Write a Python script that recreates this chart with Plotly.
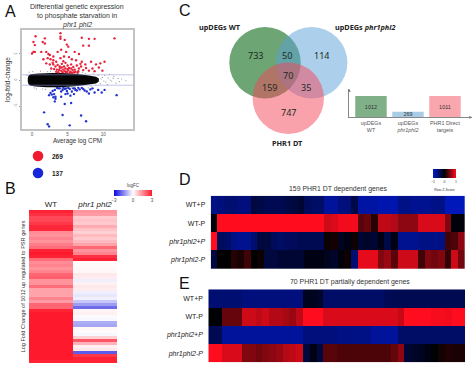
import plotly.graph_objects as go

W, H = 474, 366

# ---------- Panel A: MA plot ----------
red_x = [4.0,4.0,0.5,8.0,8.8,7.0,11.6,1.8,0.2,1.5,0.4,1.8,4.0,4.6,4.9,7.2,8.0,5.1,0.2,0.0,0.4,1.3,2.0,2.3,2.5,3.0,3.6,4.1,4.8,6.0,6.6,
         2.2,2.6,3.0,3.4,4.0,4.5,5.2,5.6,6.2,7.0,7.5,8.3,9.0,9.6,10.2,9.4,2.0,2.5,3.0,3.3,3.6,3.9,4.2,4.5,4.7,5.0,5.2,5.5,5.8,6.0,6.3,6.6,6.9,7.2,7.6,8.0,8.5,9.9,
         3.5,3.8,4.1,4.4,4.6,4.9,5.1,5.4,5.7,6.1,6.5,2.7,3.1,3.4,3.7,4.3,4.8,5.3,5.6,5.9,6.4,3.9,4.2,4.7,5.0,5.5,1.6,2.9,4.4,6.8,8.8]
red_y = [9.0,8.3,8.4,7.9,7.9,8.1,8.0,8.0,7.3,7.3,6.7,7.0,7.9,7.7,6.8,6.6,6.6,6.4,5.4,5.1,5.4,5.4,5.4,5.0,4.8,4.5,5.4,5.8,5.4,5.4,5.0,
         4.2,4.0,3.8,3.5,4.2,4.5,4.4,4.0,3.8,3.5,3.0,3.5,3.0,3.2,3.5,2.4,3.2,3.0,3.0,2.6,2.9,2.6,3.1,2.6,3.3,2.8,2.3,3.0,2.5,2.0,2.8,2.2,2.6,1.9,2.3,1.8,2.2,1.8,
         2.0,1.9,1.8,2.0,1.7,1.6,1.9,1.6,1.9,1.6,1.7,2.2,2.1,1.6,1.5,1.5,1.5,1.4,1.4,1.5,1.4,2.3,2.4,2.2,2.1,2.2,4.0,3.3,3.6,3.1,1.7]
blue_x = [1.7,2.2,2.4,5.3,6.9,7.6,4.3,11.9,2.4,2.6,2.9,3.2,3.1,3.3,3.2,3.3,4.1,4.7,4.6,5.5,4.1,4.3,4.6,4.9,5.3,5.6,6.0,6.3,6.7,7.2,7.7,8.2,8.8,9.3,9.8,10.2,8.0,3.7,5.0,5.4,
          3.5,3.9,4.4,4.8,5.1,5.8,6.5,7.0,2.8,3.0,5.9,6.1,7.4,8.5]
blue_y = [-6.2,-8.5,-8.9,-8.7,-6.8,-7.9,-6.7,-2.9,-2.9,-2.5,-2.1,-1.9,-2.7,-3.2,-4.1,-3.6,-3.2,-2.7,-4.6,-4.4,-2.2,-1.9,-1.7,-2.1,-1.7,-2.2,-1.6,-2.0,-1.8,-1.7,-2.2,-1.8,-2.4,-1.9,-2.4,-1.9,-2.6,-1.6,-2.6,-3.0,
          -1.5,-1.6,-1.5,-1.6,-1.5,-1.6,-1.5,-1.5,-2.8,-3.3,-2.7,-1.9,-2.0,-1.6]
cloud_x = [-0.6,-0.5,-0.2,0.5,1,2,3,4,5,6,7,8,9,9.4]
cloud_hi = [0.3,0.8,1.1,1.2,1.25,1.3,1.35,1.35,1.3,1.2,1.05,0.85,0.65,0.3]
cloud_lo = [-0.3,-0.8,-1.1,-1.25,-1.3,-1.4,-1.4,-1.4,-1.3,-1.2,-1.05,-0.85,-0.65,-0.3]
grey_x = [-0.7,-0.4,0.1,0.6,1.2,1.9,2.6,3.3,4.1,5.2,6.1,7.1,7.9,8.6,9.3,9.6,9.9,10.2,10.4,10.7,10.9,11.2,11.5,11.8,12.1,12.6,13.2,
          0.3,1.5,2.2,3.7,4.6,5.6,6.6,7.5,8.3,9.0,9.7,10.1,10.6,11.0,11.4,12.3]
grey_y = [0.9,1.5,1.6,-1.7,1.7,-1.8,1.7,-1.8,-1.6,1.6,-1.6,1.5,-1.5,1.3,0.9,-0.7,0.5,0.9,-0.4,0.4,1.1,-0.2,0.7,-0.6,0.3,0.2,-0.1,
          -1.5,-1.7,1.6,1.6,-1.5,-1.5,1.4,1.3,-1.2,-1.0,0.2,-0.2,-0.9,0.0,0.3,-0.3]
a_xticks = [0, 5, 10]
a_yticks = [-5, 0, 5]
threshold = [1, -1]

# ---------- Panel B: logFC heat map ----------
b_cols = ["WT", "<i>phr1 phl2</i>"]
b_wt = [2.9,2.7,2.4,2.4,2.6,2.8,2.8,1.5,1.4,1.6,1.4,1.7,1.9,2.9,3,2.9,1.9,1.5,1.6,1.4,1.6,2.0,2.1,1.4,1.4,
        1.9,1.2,1.2,1.2,1.6,1.3,2.0,2.0,2.9,3,3,3,3,3,3,3,3,3,3,3,3,3,3,3,3,2.9]
b_mut = [1.4,1.3,0.7,0.8,0.7,1.1,0.8,0.6,0.9,0.7,0.9,1.2,2.0,1.4,1.6,2.7,2.9,0.05,0.05,0.1,0.1,0.3,0.25,-0.2,0.2,
         0.3,0.25,-0.2,-0.3,-0.2,-0.7,-1.2,-1.8,0.15,0.2,-0.05,-0.1,-1.0,-1.1,0.1,0.05,-0.1,0.6,2.2,1.0,0.2,0.3,-2.0,2.6,2.9,2.9]

# ---------- Panel C: Venn counts and bars ----------
bar_labels = ["upDEGs<br>WT", "upDEGs<br><i>phr1phl2</i>", "PHR1 Direct<br>targets"]
bar_values = [1012, 269, 1011]

# ---------- Panels D / E: z-score heat maps ----------
rows = ["WT+P", "WT-P", "<i>phr1phl2+P</i>", "<i>phr1phl2-P</i>"]
d_wt_plus = [-.65,-.6,-.55,-.55,-.6,-.6,-.3,-.35,-.4,-.4,-.4,-.35,-.3,-.25,-.45,-.5,-.5,-.75,-.75,-.6,-.6,-.35,-.8,-.8,-.8,-.85,-.85,-.85,-.65,-.65,-.7,-.7,-.7,-.65,-.65,-.9,-.9,-.9]
d_wt_minus = [-.05,1,1,1,1,1,1,1,1,1,1,1,1,1,1,1,1,.8,.85,.95,.95,.95,.35,.4,.15,.75,.75,.7,.55,.55,.55,.85,.85,.85,.85,.5,-.05,-.05]
d_mut_plus = [1,-.45,-.5,-.65,-.7,-.7,-.55,-.3,-.3,-.45,-.5,-.45,-.45,-.4,-.4,-.4,-.4,.05,.08,-.15,-.1,.05,-.25,-.2,-.25,-.1,-.35,-.1,-.7,-.7,-.7,-.65,-.65,-.65,-.65,.25,.3,.55]
d_mut_minus = [-.3,0,0,.15,.1,.25,0,.05,-.3,-.3,-.25,-.25,-.25,-.25,-.1,-.1,-.1,-.15,-.2,-.05,.05,-.55,.9,.9,.9,.5,.6,.35,.8,.8,.8,.25,.5,.45,.5,.2,.8,.45]
e_wt_plus = [-.55,-.55,-.55,-.55,-.55,-.6,-.6,-.6,-.6,-.6,-.6,-.6,-.6,-.6,-.15,-.15,-.2,-.5,-.5,-.5,-.5,-.5,-.5,-.5,-.5,-.5,-.42,-.4,-.4,-.4,-.4,-.4,-.4,-.4,-.4,-.4,-.4,-.4]
e_wt_minus = [-.02,-.02,.4,.4,.4,.8,.8,.75,.8,.7,.7,.65,.6,.75,1,1,1,.85,.85,.85,.85,.85,.85,.85,.85,.85,.85,.85,.78,1,1,1,1,.97,.97,.95,1,1]
e_mut_plus = [-.4,-.4,-.75,-.75,-.75,-.75,-.75,-.75,-.75,-.75,-.75,-.75,-.75,-.75,-.6,-.6,-.6,-.6,-.6,-.65,-.65,-.65,-.65,-.65,-.75,-.75,-.75,-.75,-.5,-.5,-.5,-.5,-.5,-.5,-.5,-.5,-.5,-.5]
e_mut_minus = [1,1,.85,.85,.85,.5,.5,.45,.5,.55,.6,.7,.75,.8,-.3,-.1,-.3,.35,.35,.3,.3,.3,.3,.3,.3,.3,.3,.4,.55,-.25,-.2,-.15,-.1,-.02,.08,.12,.1,.1]


def dom_x(a, b):
    return [a / W, b / W]


def dom_y(top, bottom):
    return [1 - bottom / H, 1 - top / H]


def px(x):
    return x / W


def py(y):
    return 1 - y / H


FONT = "Liberation Sans, Arial, sans-serif"
SOFT = "Noto Sans, sans-serif"
fig = go.Figure()

# A
fig.add_trace(go.Scatter(x=grey_x, y=grey_y, mode="markers", marker=dict(color="#9a9a9a", size=1.2),
                         xaxis="x", yaxis="y", showlegend=False))
fig.add_trace(go.Scatter(x=cloud_x + cloud_x[::-1], y=cloud_hi + cloud_lo[::-1], fill="toself", mode="none",
                         fillcolor="#050505", xaxis="x", yaxis="y", showlegend=False))
fig.add_trace(go.Scatter(x=[-1.4, 14.2, None, -1.4, 14.2], y=[threshold[0], threshold[0], None, threshold[1], threshold[1]],
                         mode="lines", line=dict(color="rgba(140,150,215,0.55)", width=1), xaxis="x", yaxis="y", showlegend=False))
fig.add_trace(go.Scatter(x=red_x, y=red_y, mode="markers", marker=dict(color="#e8223a", size=2.4),
                         xaxis="x", yaxis="y", showlegend=False))
fig.add_trace(go.Scatter(x=blue_x, y=blue_y, mode="markers", marker=dict(color="#2233cc", size=2.4),
                         xaxis="x", yaxis="y", showlegend=False))

# B
B_SCALE = [[0, "rgb(10,10,225)"], [0.5, "rgb(255,255,255)"], [1, "rgb(255,25,45)"]]
fig.add_trace(go.Heatmap(z=[list(r) for r in zip(b_wt, b_mut)], x=b_cols, xaxis="x2", yaxis="y2",
                         zmin=-3, zmax=3, colorscale=B_SCALE, xgap=0, ygap=0,
                         colorbar=dict(orientation="h", x=px(133), xanchor="center", y=py(200.5), yanchor="bottom",
                                       lenmode="pixels", len=38, thickness=6, xpad=0, ypad=0, outlinewidth=0,
                                       tickvals=[-3, 0, 3], ticks="", ticklabelposition="outside bottom",
                                       tickfont=dict(size=4.5, color="#444", family=FONT))))

# C bars
fig.add_trace(go.Bar(x=[0, 1, 2], y=bar_values, xaxis="x3", yaxis="y3", width=0.85, showlegend=False,
                     marker=dict(color=["#7fb088", "#a9cde6", "#f9a6ae"], line=dict(width=0)),
                     text=[str(v) for v in bar_values], textposition="inside", insidetextanchor="middle",
                     textangle=0, constraintext="none",
                     textfont=dict(size=5.5, color="#333", family=FONT)))

# D / E
Z_SCALE = [[0, "rgb(0,25,205)"], [0.5, "rgb(0,0,0)"], [1, "rgb(255,12,30)"]]
fig.add_trace(go.Heatmap(z=[d_wt_plus, d_wt_minus, d_mut_plus, d_mut_minus], y=rows, xaxis="x4", yaxis="y4",
                         zmin=-1, zmax=1, colorscale=Z_SCALE,
                         colorbar=dict(orientation="h", x=px(444.5), xanchor="center", y=py(191.5), yanchor="bottom",
                                       lenmode="pixels", len=23, thickness=9, xpad=0, ypad=0, outlinewidth=0,
                                       tickvals=[-1, 0, 1], ticks="", tickfont=dict(size=3.5, color="#333", family=FONT),
                                       title=dict(text="Row Z-Score", side="bottom", font=dict(size=3.5, color="#333", family=FONT)))))
fig.add_trace(go.Heatmap(z=[e_wt_plus, e_wt_minus, e_mut_plus, e_mut_minus], y=rows, xaxis="x5", yaxis="y5",
                         zmin=-1, zmax=1, colorscale=Z_SCALE, showscale=False))

hidden = dict(showgrid=False, zeroline=False, showticklabels=False, ticks="", showline=False)
row_axis = dict(autorange="reversed", showgrid=False, zeroline=False, ticks="outside", ticklen=3, tickcolor="rgba(0,0,0,0)",
                tickfont=dict(size=7, color="#222", family=FONT), showline=False)
frame = dict(showline=True, linecolor="#c3c3c3", linewidth=1.5, mirror=True, showgrid=False, zeroline=False)

fig.update_layout(
    width=W, height=H, margin=dict(l=0, r=0, t=0, b=0), paper_bgcolor="white", plot_bgcolor="white",
    showlegend=False, font=dict(family=FONT, color="#333"),
    xaxis=dict(domain=dom_x(22, 133), range=[-1.41, 14.2], tickvals=a_xticks, ticks="", ticklen=0,
               tickfont=dict(size=4.5, color="#555"), title=dict(text="Average log CPM", font=dict(size=6.3, color="#333"), standoff=1), **frame),
    yaxis=dict(domain=dom_y(30, 129), range=[-9.4, 9.6], tickvals=a_yticks, ticks="outside", ticklen=1.5, tickcolor="#999",
               tickangle=-90, tickfont=dict(size=3.5, color="#666"),
               title=dict(text="log-fold-change", font=dict(size=6.5, color="#333"), standoff=3), **frame),
    xaxis2=dict(domain=dom_x(29, 117), anchor="y2", side="top", showgrid=False, zeroline=False, ticks="",
                tickfont=dict(size=8, color="#222")),
    yaxis2=dict(domain=dom_y(210, 363), anchor="x2", autorange="reversed", showticklabels=False, ticks="", showgrid=False, zeroline=False,
                title=dict(text="Log Fold Change of 1012 up regulated to PSR genes", font=dict(size=5.6, color="#333"), standoff=2)),
    xaxis3=dict(domain=dom_x(349.3, 472), anchor="y3", range=[-0.586, 2.73], tickvals=[0, 1, 2], ticktext=bar_labels,
                showgrid=False, zeroline=False, showline=True, linecolor="#888", linewidth=1, ticks="", ticklen=0,
                tickfont=dict(size=5.4, color="#555")),
    yaxis3=dict(domain=dom_y(89.3, 117.3), anchor="x3", range=[0, 1330], showticklabels=False, ticks="",
                showgrid=False, zeroline=False, showline=True, linecolor="#888", linewidth=1),
    xaxis4=dict(domain=dom_x(210.7, 465), anchor="y4", **hidden),
    yaxis4=dict(domain=dom_y(195.7, 269), anchor="x4", **row_axis),
    xaxis5=dict(domain=dom_x(208.3, 465), anchor="y5", **hidden),
    yaxis5=dict(domain=dom_y(289.3, 362.3), anchor="x5", **row_axis),
)

shapes = []
for (cx, cy, r, col, op) in [(265, 62.7, 35.7, "rgb(60,135,70)", 0.75),
                             (311.7, 62.7, 35.7, "rgb(90,160,215)", 0.5),
                             (288.3, 98.3, 35.7, "rgb(245,70,90)", 0.5)]:
    shapes.append(dict(type="circle", xref="paper", yref="paper", x0=px(cx - r), x1=px(cx + r), y0=py(cy + r), y1=py(cy - r),
                       fillcolor=col, opacity=op, line=dict(width=0), layer="above"))
for (cx, cy, col) in [(38, 156, "#ee1c2e"), (38, 173, "#1726d8")]:
    shapes.append(dict(type="circle", xref="paper", yref="paper", x0=px(cx - 5.3), x1=px(cx + 5.3), y0=py(cy + 5.3), y1=py(cy - 5.3),
                       fillcolor=col, line=dict(width=0), layer="above"))
fig.update_layout(shapes=shapes)


def note(x, y, text, size=7, color="#333", family=FONT, anchor="center"):
    fig.add_annotation(x=px(x), y=py(y), xref="paper", yref="paper", text=text, showarrow=False, xanchor=anchor, yanchor="middle",
                       font=dict(size=size, color=color, family=family))


for letter, x, y in [("A", 3, 11), ("B", 3, 188), ("C", 177, 10), ("D", 177, 179), ("E", 177, 283)]:
    note(x, y, letter, size=16, color="#111", anchor="left")
note(77, 7, "Differential genetic expression", 7)
note(77, 16.5, "to phosphate starvation in", 7)
note(77, 25, "<i>phr1 phl2</i>", 7)
note(50, 156, "<b>269</b>", 6.5, "#222", anchor="left")
note(50, 173, "<b>137</b>", 6.5, "#222", anchor="left")
note(220, 26.7, "<b>upDEGs WT</b>", 7.3, "#222", SOFT)
note(365, 26.7, "<b>upDEGs <i>phr1phl2</i></b>", 7.3, "#222", SOFT)
note(287.7, 143.3, "<b>PHR1 DT</b>", 7.3, "#222", SOFT)
note(133, 185, "logFC", 4.5, "#444")
for txt, x, y in [("733", 256, 55), ("50", 287.3, 55), ("114", 321, 55), ("70", 288.3, 75),
                  ("159", 269.3, 87.3), ("35", 306, 87.3), ("747", 288.3, 112.7)]:
    note(x, y, txt, 9, "#1c2a24", SOFT)
note(337.7, 188.7, "159 PHR1 DT dependent genes", 6.9)
note(350, 282, "70 PHR1 DT partially dependent genes", 6.9)

# axis arrows of the small bar chart
fig.add_annotation(x=px(349.3), y=py(89), xref="paper", yref="paper", ax=0, ay=4, text="", showarrow=True,
                   arrowhead=2, arrowsize=0.7, arrowwidth=0.8, arrowcolor="#777")
fig.add_annotation(x=px(472), y=py(117.3), xref="paper", yref="paper", ax=-4, ay=0, text="", showarrow=True,
                   arrowhead=2, arrowsize=0.7, arrowwidth=0.8, arrowcolor="#777")

fig.write_html("out.html", config={"displayModeBar": False},
               post_script="document.body.style.margin='0';document.body.style.overflow='hidden';")
